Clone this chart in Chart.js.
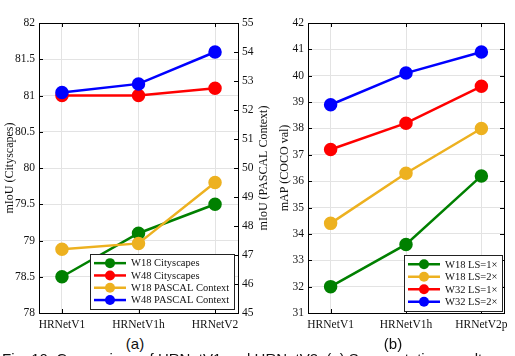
<!DOCTYPE html>
<html><head><meta charset="utf-8">
<script src="https://cdn.jsdelivr.net/npm/chart.js@4"></script>
<style>
html,body{margin:0;padding:0;background:#fff;width:515px;height:356px;overflow:hidden;position:relative;}
#ca{position:absolute;left:0;top:0;}
#cb{position:absolute;left:260px;top:0;}
.cap{position:absolute;font-family:"Liberation Sans",Arial,sans-serif;font-size:15px;color:#111;transform:translateX(-50%);}
#fig{position:absolute;left:2px;top:350px;font-family:"Liberation Sans",Arial,sans-serif;font-size:15px;color:#111;white-space:nowrap;}
</style></head>
<body>
<canvas id="ca" width="280" height="335"></canvas>
<canvas id="cb" width="255" height="335"></canvas>
<div class="cap" style="left:135px;top:335px;">(a)</div>
<div class="cap" style="left:393px;top:335px;">(b)</div>
<div id="fig">Fig. 10: Comparison of HRNetV1 and HRNetV2. (a) Segmentation results</div>
<script>
// ---- data ----
const catsA = ["HRNetV1", "HRNetV1h", "HRNetV2"];
const catsB = ["HRNetV1", "HRNetV1h", "HRNetV2p"];
const w18City = [78.5, 79.1, 79.5];
const w48City = [81.0, 81.0, 81.1];
const w18Pascal = [47.2, 47.4, 49.5];
const w48Pascal = [52.6, 52.9, 54.0];
const w18ls1 = [32.0, 33.6, 36.2];
const w18ls2 = [34.4, 36.3, 38.0];
const w32ls1 = [37.2, 38.2, 39.6];
const w32ls2 = [38.9, 40.1, 40.9];
const labelsA = ["W18 Cityscapes", "W48 Cityscapes", "W18 PASCAL Context", "W48 PASCAL Context"];
const labelsB = ["W18 LS=1\u00d7", "W18 LS=2\u00d7", "W32 LS=1\u00d7", "W32 LS=2\u00d7"];

const GREEN = "#008000", RED = "#ff0000", ORANGE = "#EDB120", BLUE = "#0000ff";
const SERIF = "'Liberation Serif','Times New Roman',serif";

function pts(arr){ return arr.map((v,i)=>({x:i,y:v})); }
function ds(label, arr, color, axis, order){
  return {label, data: pts(arr), borderColor: color, backgroundColor: color,
    pointBackgroundColor: color, pointBorderColor: color, pointRadius: 5.5, pointHoverRadius: 5.5,
    borderWidth: 2.5, yAxisID: axis, order, tension: 0};
}
const fmt = v => Number.isInteger(v) ? String(v) : v.toFixed(1);

const boxPlugin = {
  id: 'boxPlugin',
  afterDraw(chart){
    const ctx = chart.ctx, a = chart.chartArea;
    ctx.save();
    ctx.strokeStyle = '#000'; ctx.lineWidth = 1;
    ctx.strokeRect(Math.round(a.left)+0.5, Math.round(a.top)+0.5, Math.round(a.right-a.left), Math.round(a.bottom-a.top));
    const L = 4;
    const xs = chart.scales.x;
    xs.ticks.forEach(t=>{
      const px = Math.round(xs.getPixelForValue(t.value))+0.5;
      ctx.beginPath(); ctx.moveTo(px, a.bottom); ctx.lineTo(px, a.bottom-L);
      ctx.moveTo(px, a.top); ctx.lineTo(px, a.top+L); ctx.stroke();
    });
    const yl = chart.scales.y;
    yl.ticks.forEach(t=>{
      const py = Math.round(yl.getPixelForValue(t.value))+0.5;
      ctx.beginPath(); ctx.moveTo(a.left, py); ctx.lineTo(a.left+L, py); ctx.stroke();
      if(!chart.scales.y2){ ctx.beginPath(); ctx.moveTo(a.right, py); ctx.lineTo(a.right-L, py); ctx.stroke(); }
    });
    const yr = chart.scales.y2;
    if(yr){
      yr.ticks.forEach(t=>{
        const py = Math.round(yr.getPixelForValue(t.value))+0.5;
        ctx.beginPath(); ctx.moveTo(a.right, py); ctx.lineTo(a.right-L, py); ctx.stroke();
      });
      // right axis title reading bottom-to-top
      const rt = chart.options.plugins.rightTitle;
      ctx.save();
      ctx.translate(rt.x, (a.top+a.bottom)/2);
      ctx.rotate(-Math.PI/2);
      ctx.font = "12px " + SERIF; ctx.fillStyle = '#111';
      ctx.textAlign = 'center'; ctx.textBaseline = 'middle';
      ctx.fillText(rt.text, 0, 0);
      ctx.restore();
    }
    // legend
    const opt = chart.options.plugins.boxLegend;
    const items = chart.data.datasets.map(d=>({label:d.label,color:d.borderColor}));
    ctx.font = opt.fontSize + "px " + SERIF;
    let maxW = 0; items.forEach(it=>{maxW = Math.max(maxW, ctx.measureText(it.label).width);});
    const rowH = opt.rowH, lineLen = 32, padL = 4, gap = 5, padR = 5;
    const bw = Math.round(padL + lineLen + gap + maxW + padR);
    const bh = Math.round(rowH*items.length + 6);
    const bx = Math.round(a.right - opt.marginR - bw), by = Math.round(a.bottom - opt.marginB - bh);
    ctx.fillStyle = '#fff'; ctx.fillRect(bx, by, bw, bh);
    ctx.strokeStyle = '#222'; ctx.lineWidth = 1;
    ctx.strokeRect(bx+0.5, by+0.5, bw, bh);
    items.forEach((it,i)=>{
      const cy = by + 3 + rowH*i + rowH/2;
      ctx.strokeStyle = it.color; ctx.lineWidth = 2.5;
      ctx.beginPath(); ctx.moveTo(bx+padL, cy); ctx.lineTo(bx+padL+lineLen, cy); ctx.stroke();
      ctx.fillStyle = it.color; ctx.beginPath(); ctx.arc(bx+padL+lineLen/2, cy, 5, 0, Math.PI*2); ctx.fill();
      ctx.fillStyle = '#111'; ctx.textBaseline = 'middle'; ctx.textAlign = 'left';
      ctx.fillText(it.label, bx+padL+lineLen+gap, cy+0.5);
    });
    ctx.restore();
  }
};

function xScale(cats){
  return {type:'linear', min:-0.3, max:2.3,
    afterBuildTicks(s){ s.ticks = cats.map((c,i)=>({value:i})); },
    afterFit(s){ s.height = 22; },
    grid:{color:'#e3e3e3', drawTicks:false, lineWidth:1},
    border:{display:false},
    ticks:{padding:5, color:'#111', font:{family:SERIF, size:11.5}, maxRotation:0, autoSkip:false,
      callback:(v)=>cats[v]}};
}

Chart.defaults.animation = false;
Chart.defaults.font.family = SERIF;

new Chart(document.getElementById('ca'), {
  type:'line',
  data:{datasets:[
    ds(labelsA[0], w18City, GREEN, 'y', 3),
    ds(labelsA[1], w48City, RED, 'y', 2),
    ds(labelsA[2], w18Pascal, ORANGE, 'y2', 1),
    ds(labelsA[3], w48Pascal, BLUE, 'y2', 0)
  ]},
  options:{responsive:false, animation:false,
    layout:{padding:{left:3, right:10, top:23, bottom:0}},
    plugins:{legend:{display:false}, tooltip:{enabled:false},
      boxLegend:{fontSize:10.5, rowH:12.3, marginR:4, marginB:4},
      rightTitle:{text:'mIoU (PASCAL Context)', x:264}},
    scales:{
      x: xScale(catsA),
      y:{position:'left', min:78, max:82,
        afterBuildTicks(s){ const t=[]; for(let v=78; v<=82.001; v+=0.5) t.push({value:Math.round(v*10)/10}); s.ticks=t; },
        afterFit(s){ s.width = 36; },
        grid:{color:'#e3e3e3', drawTicks:false}, border:{display:false},
        ticks:{padding:4, color:'#111', font:{family:SERIF, size:11.5}, callback:fmt},
        title:{display:true, text:'mIoU (Cityscapes)', color:'#111', font:{family:SERIF, size:12}, padding:0}},
      y2:{position:'right', min:45, max:55,
        afterBuildTicks(s){ const t=[]; for(let v=45; v<=55; v++) t.push({value:v}); s.ticks=t; },
        afterFit(s){ s.width = 32; },
        grid:{drawOnChartArea:false, drawTicks:false}, border:{display:false},
        ticks:{padding:4, color:'#111', font:{family:SERIF, size:11.5}, callback:fmt},
        title:{display:false}}
    }},
  plugins:[boxPlugin]
});

new Chart(document.getElementById('cb'), {
  type:'line',
  data:{datasets:[
    ds(labelsB[0], w18ls1, GREEN, 'y', 3),
    ds(labelsB[1], w18ls2, ORANGE, 'y', 2),
    ds(labelsB[2], w32ls1, RED, 'y', 1),
    ds(labelsB[3], w32ls2, BLUE, 'y', 0)
  ]},
  options:{responsive:false, animation:false,
    layout:{padding:{left:18, right:11, top:23, bottom:0}},
    plugins:{legend:{display:false}, tooltip:{enabled:false},
      boxLegend:{fontSize:10.5, rowH:12.5, marginR:2, marginB:2}},
    scales:{
      x: xScale(catsB),
      y:{position:'left', min:31, max:42,
        afterBuildTicks(s){ const t=[]; for(let v=31; v<=42; v++) t.push({value:v}); s.ticks=t; },
        afterFit(s){ s.width = 30; },
        grid:{color:'#e3e3e3', drawTicks:false}, border:{display:false},
        ticks:{padding:4, color:'#111', font:{family:SERIF, size:11.5}, callback:fmt},
        title:{display:true, text:'mAP (COCO val)', color:'#111', font:{family:SERIF, size:12}, padding:0}}
    }},
  plugins:[boxPlugin]
});
</script>
</body></html>
